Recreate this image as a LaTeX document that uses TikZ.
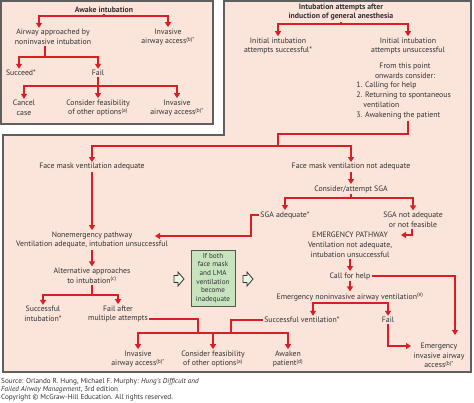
\documentclass[tikz,border=0pt]{standalone}
\usepackage{fontspec}
\setmainfont{PT Sans}
\usetikzlibrary{arrows.meta}
\definecolor{pinkbg}{RGB}{251,228,218}
\definecolor{redc}{RGB}{218,30,38}
\definecolor{txtc}{RGB}{50,50,50}
\definecolor{boxc}{RGB}{95,95,95}
\definecolor{greenc}{RGB}{200,228,190}
\definecolor{gboxc}{RGB}{80,90,80}
\definecolor{harrowc}{RGB}{236,246,228}
\begin{document}
\begin{tikzpicture}[x=1pt,y=-1pt,
  t/.style={text=txtc, font=\fontsize{7.8}{9.8}\selectfont, align=center, inner sep=1.2pt},
  tb/.style={t, font=\fontsize{7.8}{9.8}\selectfont\bfseries},
  ln/.style={draw=redc, line width=1.25pt},
  arr/.style={ln, -{Triangle[length=5pt,width=6pt]}},
  harrow/.style={draw=txtc, fill=harrowc, line width=0.8pt, line join=miter},
  panel/.style={draw=boxc, fill=pinkbg, line width=1.2pt}
]
\useasboundingbox (0,0) rectangle (474,402);
\fill[white] (0,0) rectangle (474,402);
% panels
\draw[panel] (1,1) rectangle (213,124);
\draw[panel] (3,135) -- (224,135) -- (224,1) -- (471,1) -- (471,372) -- (3,372) -- cycle;

% ---------- Awake intubation ----------
\node[tb] (aw) at (104,10) {Awake intubation};
\node[t] (aw1) at (53,37) {Airway approached by\\noninvasive intubation};
\node[t] (aw2) at (168,37) {Invasive\\airway access\textsuperscript{(b)*}};
\node[t] (aw3) at (21,73) {Succeed*};
\node[t] (aw4) at (98,73) {Fail};
\node[t] (aw5) at (24,108) {Cancel\\case};
\node[t] (aw6) at (98,108) {Consider feasibility\\of other options\textsuperscript{(a)}};
\node[t] (aw7) at (177,108) {Invasive\\airway access\textsuperscript{(b)*}};

\coordinate (awj) at (104,16);
\draw[ln] (aw.south) -- (awj);
\draw[arr] (awj) -| ([xshift=-14pt]aw1.north);
\draw[arr] (awj) -| (aw2.north);
\coordinate (awj2) at (45,57);
\draw[ln] ([xshift=-8pt]aw1.south) -- (awj2);
\draw[arr] (awj2) -| ([xshift=-2pt]aw3.north);
\draw[arr] (awj2) -| (aw4.north);
\coordinate (awj3) at (98,86);
\draw[ln] (aw4.south) -- (awj3);
\draw[arr] (awj3) -| (aw5.north);
\draw[arr] (awj3) -- (aw6.north);
\draw[arr] (awj3) -| (aw7.north);

% ---------- General anesthesia ----------
\node[tb] (ga) at (341,12) {Intubation attempts after\\induction of general anesthesia};
\node[t] (ga1) at (278,46) {Initial intubation\\attempts successful*};
\node[t] (ga2) at (408,46) {Initial intubation\\attempts unsuccessful};
\node[t] (ga3) at (405,70.5) {From this point\\onwards consider:};
\node[t, align=left, anchor=west, font=\fontsize{7.8}{10}\selectfont] (ga4) at (355,101) {1. Calling for help\\2. Returning to spontaneous\\\hspace*{7pt}ventilation\\3. Awakening the patient};

\coordinate (gaj) at (341,24);
\draw[ln] (ga.south) -- (gaj);
\draw[arr] (gaj) -| (ga1.north);
\draw[arr] (gaj) -| (ga2.north);

\node[t] (fm1) at (92,167) {Face mask ventilation adequate};
\node[t] (fm2) at (351,167) {Face mask ventilation not adequate};
\coordinate (gaj3) at (278,134);
\coordinate (fmj) at (278,146);
\draw[ln] (ga4.south -| ga2.south) |- (gaj3) -- (fmj);
\draw[arr] (fmj) -| (fm1.north);
\draw[arr] (fmj) -| (fm2.north);

% ---------- Lower section ----------
\node[t] (sga) at (351,189) {Consider/attempt SGA};
\node[t] (sga1) at (285,215) {SGA adequate*};
\node[t] (sga2) at (413,219.5) {SGA not adequate\\or not feasible};
\node[t] (em) at (350,244.5) {EMERGENCY PATHWAY\\Ventilation not adequate,\\intubation unsuccessful};
\node[t] (ne) at (92,240) {Nonemergency pathway\\Ventilation adequate, intubation unsuccessful};
\node[t] (alt) at (92,275.5) {Alternative approaches\\to intubation\textsuperscript{(c)}};
\node[t] (si) at (43,314) {Successful\\intubation*};
\node[t] (fa) at (118,314) {Fail after\\multiple attempts};
\node[t] (inv) at (138,359) {Invasive\\airway access\textsuperscript{(b)*}};
\node[t] (cons) at (213,359) {Consider feasibility\\of other options\textsuperscript{(a)}};
\node[t] (awk) at (288,359) {Awaken\\patient\textsuperscript{(d)}};
\node[t] (cfh) at (350,276) {Call for help};
\node[t] (eni) at (350,297) {Emergency noninvasive airway ventilation\textsuperscript{(e)}};
\node[t] (sv) at (302,320) {Successful ventilation*};
\node[t] (f2) at (388,320) {Fail};
\node[t] (eia) at (439,355.5) {Emergency\\invasive airway\\access\textsuperscript{(b)*}};

\draw[arr] (fm2.south) -- (sga.north);
\coordinate (sgaj) at (351,198);
\draw[ln] (sga.south) -- (sgaj);
\draw[arr] (sgaj) -| (sga1.north);
\draw[arr] (sgaj) -| (sga2.north);

\coordinate (emin) at (401,235);
\draw[arr] ([xshift=-1pt]sga2.south) |- (emin);

\coordinate (nein) at (155,236);
\draw[arr] (sga1.west) -- ++(-8,0) |- (nein);

\draw[arr] (fm1.south) -- (ne.north);
\draw[arr] (ne.south) -- (alt.north);
\coordinate (altj) at (92,295);
\draw[ln] (alt.south) -- (altj);
\draw[arr] (altj) -| (si.north);
\draw[arr] (altj) -| (fa.north);

\coordinate (faj) at (198,333);
\coordinate (svj) at (231,333);
\draw[ln] ([yshift=-5pt]fa.east) -| (faj);
\draw[ln] (sv.west) -| (svj);
\draw[ln] (faj) -- (svj);
\draw[arr] (faj) -| (inv.north);
\draw[arr] (faj) -| (cons.north);
\draw[arr] (svj) -| (awk.north);

\draw[arr] (em.south) -- (cfh.north);
\coordinate (eiain) at (455,335);
\draw[arr] (cfh.east) -| (eiain);
\draw[arr] (cfh.south) -- (eni.north);
\coordinate (enij) at (350,303);
\draw[ln] (eni.south) -- (enij);
\draw[arr] (enij) -| ([xshift=11pt]sv.north);
\draw[arr] (enij) -| (f2.north);
\coordinate (eiain2) at (411,346);
\draw[arr] (f2.south) |- (eiain2);

% green box and hollow arrows
\node[t, font=\fontsize{7.2}{8.6}\selectfont, draw=gboxc, fill=greenc, line width=0.8pt,
      minimum width=44pt, minimum height=56pt, inner sep=1pt] (gb) at (213,278)
      {If both\\face mask\\and LMA\\ventilation\\become\\inadequate};
\draw[harrow, shift={(174,279)}] (0,-3.5) -- (4,-3.5) -- (4,-7) -- (10,0) -- (4,7) -- (4,3.5) -- (0,3.5) -- cycle;
\draw[harrow, shift={(243,279)}] (0,-3.5) -- (4,-3.5) -- (4,-7) -- (10,0) -- (4,7) -- (4,3.5) -- (0,3.5) -- cycle;

% source
\node[anchor=north west, align=left, inner sep=0pt, font=\fontsize{7.2}{7.8}\selectfont, text=txtc] (src) at (1,378.5)
 {Source: Orlando R. Hung, Michael F. Murphy: \textit{Hung's Difficult and}\\\textit{Failed Airway Management}, 3rd edition\\Copyright © McGraw-Hill Education. All rights reserved.};
\end{tikzpicture}
\end{document}
